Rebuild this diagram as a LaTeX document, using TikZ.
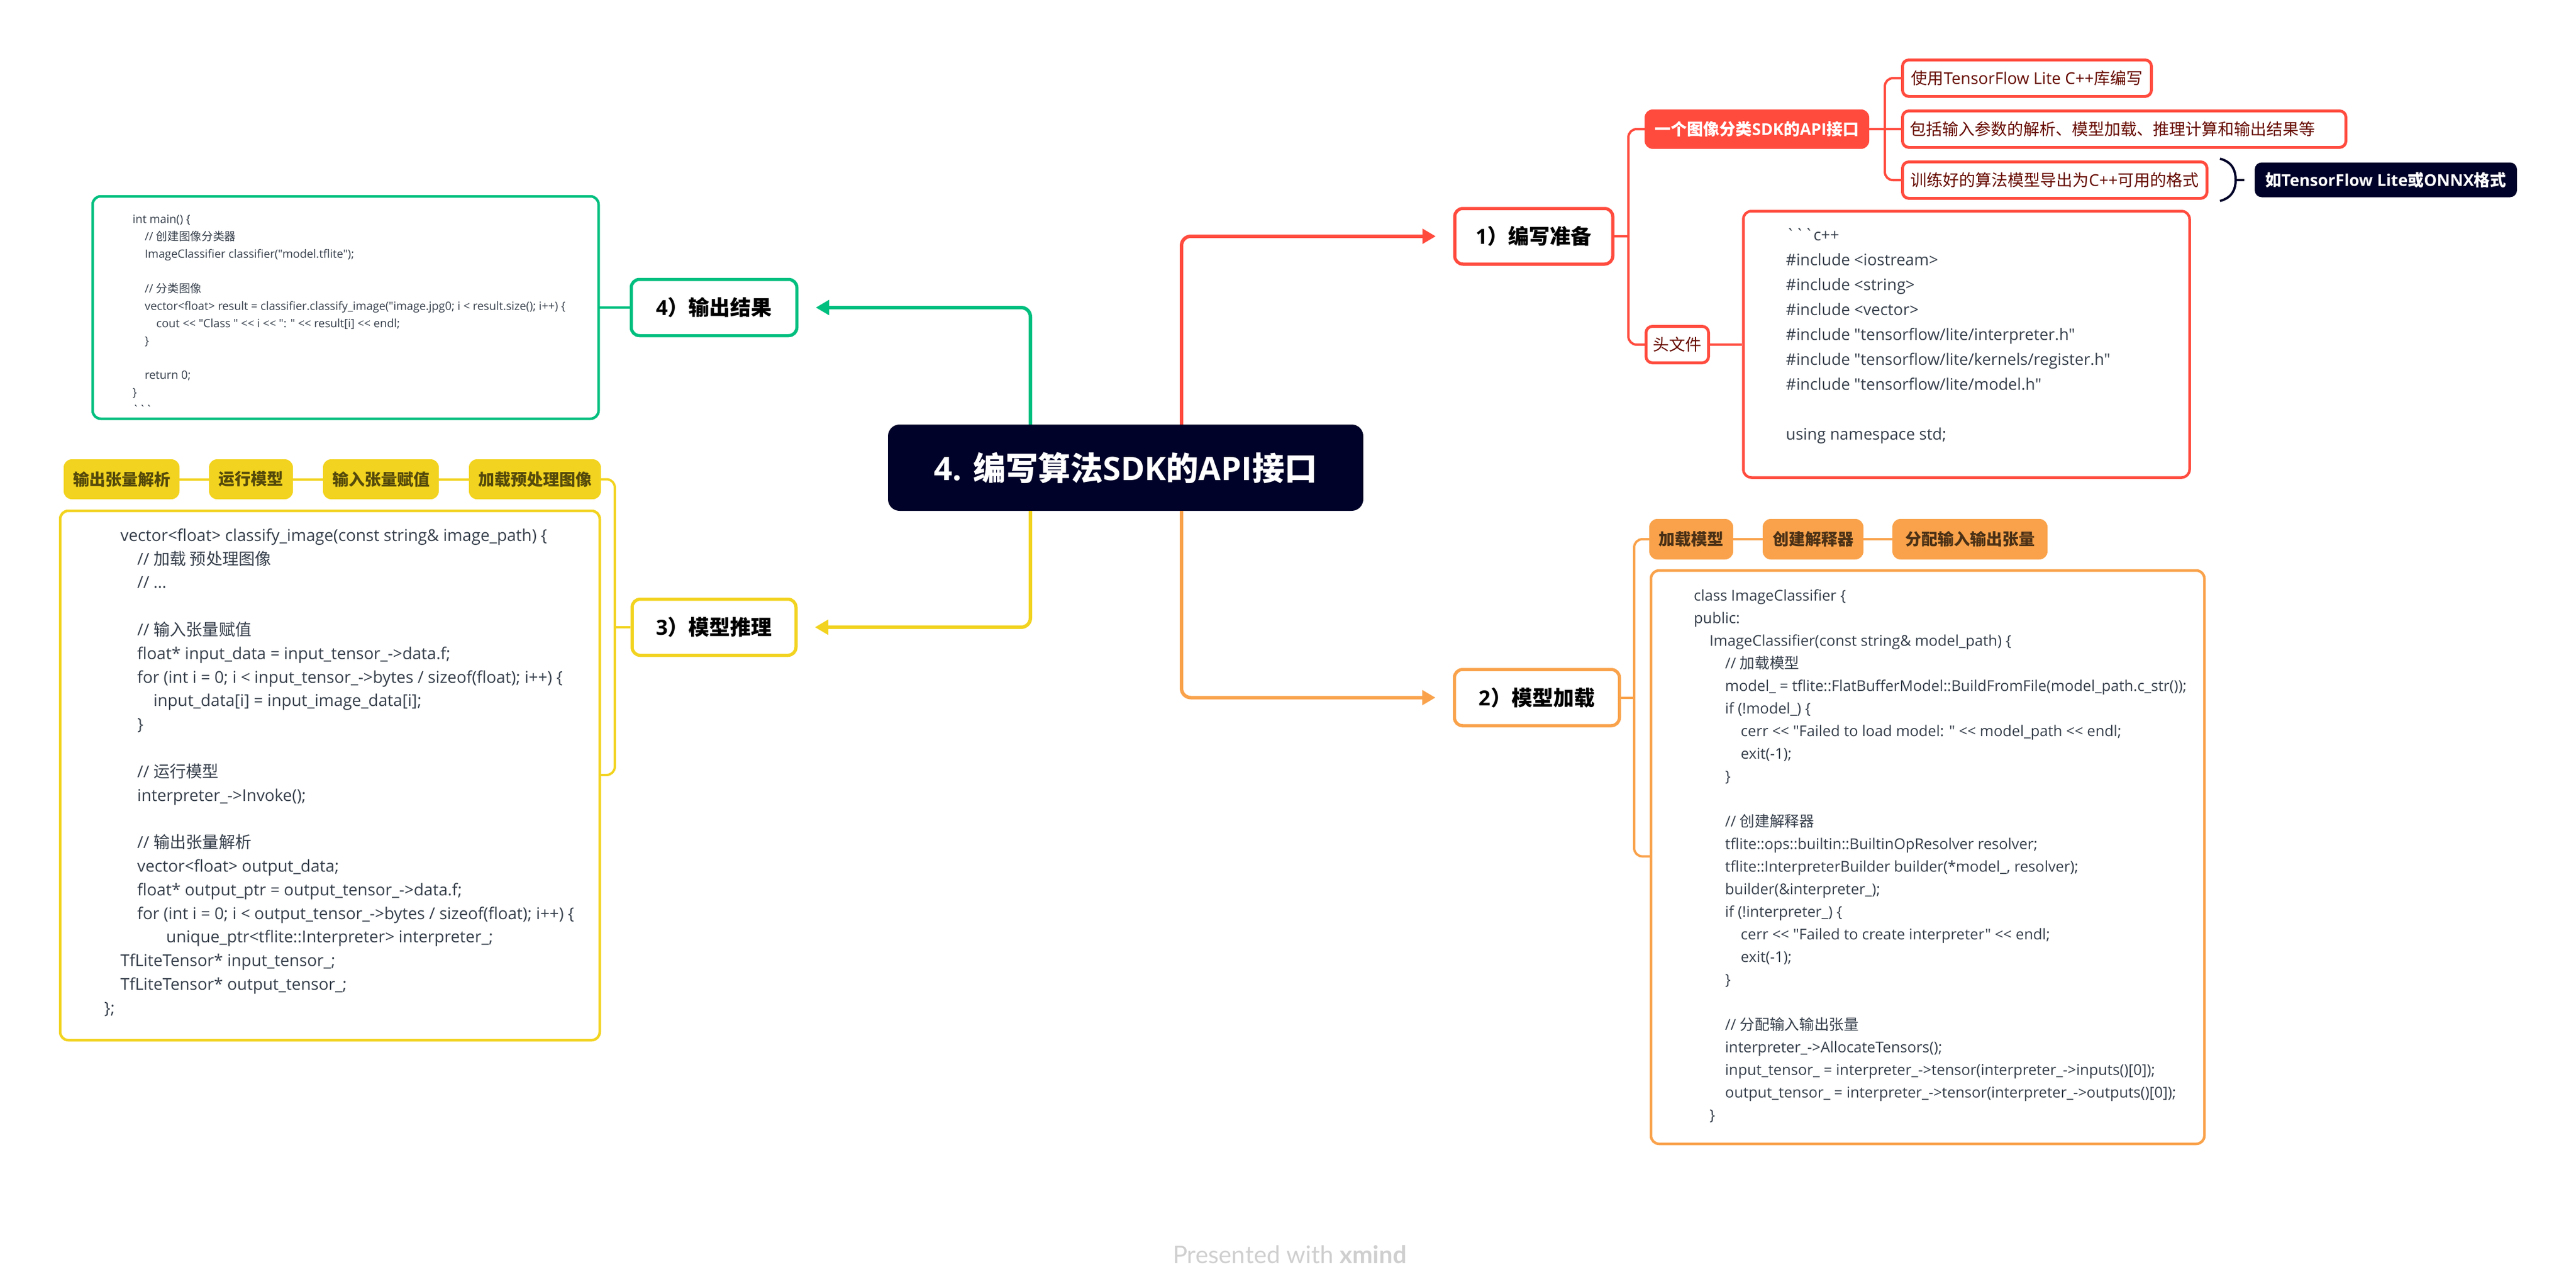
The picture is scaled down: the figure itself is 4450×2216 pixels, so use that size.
\documentclass[tikz,border=0pt]{standalone}
\usepackage{fontspec}
\setmainfont{Open Sans}[Ligatures=TeXOff]
\newfontfamily\cjk{Noto Sans CJK SC}
\newfontfamily\footfont{Lato}
\usetikzlibrary{arrows.meta}
\newcommand{\zh}[1]{{\cjk #1}}
\newcommand{\ind}[1]{\hspace*{#1pt}}
\definecolor{navy}{HTML}{000229}
\definecolor{mred}{HTML}{FF4B3E}
\definecolor{mora}{HTML}{F9A24B}
\definecolor{myel}{HTML}{F2D31F}
\definecolor{mgre}{HTML}{00BF7F}
\definecolor{codeink}{HTML}{353E4A}
\definecolor{redink}{HTML}{660A00}
\tikzset{
    size36/.style={font=\fontsize{36}{43}\selectfont\bfseries},
    size28/.style={font=\fontsize{28}{34}\selectfont},
    size28b/.style={font=\fontsize{28}{34}\selectfont\bfseries},
    topicbox/.style={draw,line width=5.5pt,rounded corners=14pt,fill=white,text=black,inner sep=0pt,size36},
    detailbox/.style={draw=mred,line width=5pt,rounded corners=11pt,fill=white,text=redink,inner sep=0pt,size28},
    tagbox/.style={rounded corners=14pt,inner sep=0pt,size28b},
    codebox/.style={draw,line width=4.5pt,rounded corners=14pt,fill=white,inner sep=0pt},
    codetext/.style={anchor=north west,align=left,inner sep=0pt,text=codeink},
    trunk/.style={line width=6pt,rounded corners=16pt,shorten >=30pt,-{Triangle[length=23pt,width=25pt]}},
    branch/.style={line width=4pt,rounded corners=14pt},
}
\begin{document}
\begin{tikzpicture}[x=1pt,y=-1pt]
    \useasboundingbox (0,0) rectangle (4450,2216);
    %% Root
    \node[fill=navy,text=white,rounded corners=20pt,minimum width=821pt,minimum height=149pt,inner sep=0pt,font=\fontsize{56}{66}\selectfont\bfseries] (root) at (1944.5,807.5) {4. \zh{编写算法}SDK\zh{的}API\zh{接口}};
    %% Main topics
    \node[topicbox,draw=mred,minimum width=273pt,minimum height=96pt] (prep) at (2649.5,408) {1\zh{）编写准备}};
    \node[topicbox,draw=mora,minimum width=285pt,minimum height=97pt] (load) at (2655,1204.5) {2\zh{）模型加载}};
    \node[topicbox,draw=myel,minimum width=283pt,minimum height=97pt] (infer) at (1233.5,1083) {3\zh{）模型推理}};
    \node[topicbox,draw=mgre,minimum width=286pt,minimum height=97pt] (output) at (1233.5,531) {4\zh{）输出结果}};
    %% Root connectors
    \draw[trunk,mred] ([xshift=96.5pt]root.north) |- (prep.west);
    \draw[trunk,mora] ([xshift=96.5pt]root.south) |- (load.west);
    \draw[trunk,myel] ([xshift=-164.5pt]root.south) |- (infer.east);
    \draw[trunk,mgre] ([xshift=-164.5pt]root.north) |- (output.east);
    %% 1) details
    \node[fill=mred,text=white,rounded corners=14pt,inner sep=0pt,minimum width=388pt,minimum height=68pt,size28b] (api) at (3035,223) {\zh{一个图像分类}SDK\zh{的}API\zh{接口}};
    \node[detailbox,minimum width=430pt,minimum height=63pt] (uselib) at (3501.5,135) {\zh{使用}TensorFlow Lite C++\zh{库编写}};
    \node[detailbox,text width=740pt,inner xsep=13pt,align=left,minimum height=63pt] (parse) at (3669.5,223) {\zh{包括输入参数的解析、模型加载、推理计算和输出结果等}};
    \node[detailbox,minimum width=526pt,minimum height=63pt] (train) at (3549.5,311) {\zh{训练好的算法模型导出为}C++\zh{可用的格式}};
    \node[fill=navy,text=white,rounded corners=12pt,inner sep=0pt,minimum width=453pt,minimum height=60pt,size28b] (onnx) at (4121.5,310.5) {\zh{如}TensorFlow Lite\zh{或}ONNX\zh{格式}};
    \node[detailbox,minimum width=108pt,minimum height=63pt] (header) at (2897.5,595) {\zh{头文件}};
    \node[codebox,draw=mred,minimum width=771pt,minimum height=460pt] (headerbox) at (3397,594.5) {};
    \node[codetext,font=\fontsize{27.5}{43}\selectfont] (headercode) at (3085,385) {\strut```c++\\
        \#include <iostream>\\
        \#include <string>\\
        \#include <vector>\\
        \#include "tensorflow/lite/interpreter.h"\\
        \#include "tensorflow/lite/kernels/register.h"\\
        \#include "tensorflow/lite/model.h"\\
        ~\\
        using namespace std;};
    \coordinate (prepj) at (2813,408);
    \coordinate (apij) at (3256,223);
    \coordinate (bracetop) at (3835,274);
    \coordinate (bracemid) at (3862,310.5);
    \coordinate (bracebot) at (3835,347);
    \draw[branch,mred] (prep.east) -- (prepj);
    \draw[branch,mred] (api.west) -| (prepj) |- (header.west);
    \draw[branch,mred] (api.east) -- (parse.west);
    \draw[branch,mred] (uselib.west) -| (apij) |- (train.west);
    \draw[branch,mred] (header.east) -- (header.east -| headerbox.west);
    \draw[line width=4pt,navy] (bracetop) .. controls (3857,280) and (3862,295) .. (bracemid) .. controls (3862,326) and (3857,341) .. (bracebot);
    \draw[line width=4pt,navy] (bracemid) -- ([xshift=-18pt]onnx.west);
    %% 2) details
    \node[tagbox,fill=mora,text=mora!30!black,minimum width=145pt,minimum height=70pt] (tagload) at (2921.5,931) {\zh{加载模型}};
    \node[tagbox,fill=mora,text=mora!30!black,minimum width=174pt,minimum height=70pt] (tagmake) at (3132,931) {\zh{创建解释器}};
    \node[tagbox,fill=mora,text=mora!30!black,minimum width=268pt,minimum height=70pt] (tagalloc) at (3403,931) {\zh{分配输入输出张量}};
    \node[codebox,draw=mora,minimum width=956pt,minimum height=990pt] (loadbox) at (3330,1480) {};
    \node[codetext,font=\fontsize{25.7}{39}\selectfont] (loadcode) at (2926,1010) {\strut class ImageClassifier \{\\
        public:\\
        \ind{27}ImageClassifier(const string\& model\_path) \{\\
        \ind{54}// \zh{加载模型}\\
        \ind{54}model\_ = tflite::FlatBufferModel::BuildFromFile(model\_path.c\_str());\\
        \ind{54}if (!model\_) \{\\
        \ind{81}cerr << "Failed to load model: " << model\_path << endl;\\
        \ind{81}exit(-1);\\
        \ind{54}\}\\
        ~\\
        \ind{54}// \zh{创建解释器}\\
        \ind{54}tflite::ops::builtin::BuiltinOpResolver resolver;\\
        \ind{54}tflite::InterpreterBuilder builder(*model\_, resolver);\\
        \ind{54}builder(\&interpreter\_);\\
        \ind{54}if (!interpreter\_) \{\\
        \ind{81}cerr << "Failed to create interpreter" << endl;\\
        \ind{81}exit(-1);\\
        \ind{54}\}\\
        ~\\
        \ind{54}// \zh{分配输入输出张量}\\
        \ind{54}interpreter\_->AllocateTensors();\\
        \ind{54}input\_tensor\_ = interpreter\_->tensor(interpreter\_->inputs()[0]);\\
        \ind{54}output\_tensor\_ = interpreter\_->tensor(interpreter\_->outputs()[0]);\\
        \ind{27}\}};
    \coordinate (loadj) at (2823,1204.5);
    \coordinate (loadend) at (2851,1478.6);
    \draw[branch,mora] (load.east) -- (loadj);
    \draw[branch,mora] (tagload.west) -| (loadj) |- (loadend);
    \draw[branch,mora] (tagload) -- (tagmake);
    \draw[branch,mora] (tagmake) -- (tagalloc);
    %% 3) details
    \node[tagbox,fill=myel,text=myel!35!black,minimum width=200pt,minimum height=69pt] (tagparse) at (210,827.5) {\zh{输出张量解析}};
    \node[tagbox,fill=myel,text=myel!35!black,minimum width=145pt,minimum height=69pt] (tagrun) at (433.5,827.5) {\zh{运行模型}};
    \node[tagbox,fill=myel,text=myel!35!black,minimum width=200pt,minimum height=69pt] (tagfill) at (658,827.5) {\zh{输入张量赋值}};
    \node[tagbox,fill=myel,text=myel!35!black,minimum width=228pt,minimum height=69pt] (tagimg) at (924,827.5) {\zh{加载预处理图像}};
    \node[codebox,draw=myel,minimum width=932pt,minimum height=914pt] (inferbox) at (570,1339) {};
    \node[codetext,font=\fontsize{28.2}{40.8}\selectfont] (infercode) at (208,905.5) {\strut vector<float> classify\_image(const string\& image\_path) \{\\
        \ind{29}// \zh{加载 预处理图像}\\
        \ind{29}// ...\\
        ~\\
        \ind{29}// \zh{输入张量赋值}\\
        \ind{29}float* input\_data = input\_tensor\_->data.f;\\
        \ind{29}for (int i = 0; i < input\_tensor\_->bytes / sizeof(float); i++) \{\\
        \ind{57}input\_data[i] = input\_image\_data[i];\\
        \ind{29}\}\\
        ~\\
        \ind{29}// \zh{运行模型}\\
        \ind{29}interpreter\_->Invoke();\\
        ~\\
        \ind{29}// \zh{输出张量解析}\\
        \ind{29}vector<float> output\_data;\\
        \ind{29}float* output\_ptr = output\_tensor\_->data.f;\\
        \ind{29}for (int i = 0; i < output\_tensor\_->bytes / sizeof(float); i++) \{\\
        \ind{79}unique\_ptr<tflite::Interpreter> interpreter\_;\\
        TfLiteTensor* input\_tensor\_;\\
        TfLiteTensor* output\_tensor\_;\\
        \ind{-28}\};};
    \coordinate (inferj) at (1062,1083);
    \coordinate (inferend) at (1037,1338);
    \draw[branch,myel] (infer.west) -- (inferj);
    \draw[branch,myel] (tagimg.east) -| (inferj) |- (inferend);
    \draw[branch,myel] (tagparse) -- (tagrun);
    \draw[branch,myel] (tagrun) -- (tagfill);
    \draw[branch,myel] (tagfill) -- (tagimg);
    %% 4) details
    \node[codebox,draw=mgre,minimum width=874pt,minimum height=384pt] (outputbox) at (597,531) {};
    \node[codetext,font=\fontsize{19.7}{29.9}\selectfont] (outputcode) at (229,364.7) {\strut int main() \{\\
        \ind{21}// \zh{创建图像分类器}\\
        \ind{21}ImageClassifier classifier("model.tflite");\\
        ~\\
        \ind{21}// \zh{分类图像}\\
        \ind{21}vector<float> result = classifier.classify\_image("image.jpg0; i < result.size(); i++) \{\\
        \ind{41}cout << "Class " << i << ": " << result[i] << endl;\\
        \ind{21}\}\\
        ~\\
        \ind{21}return 0;\\
        \}\\
        ```};
    \draw[branch,mgre] (outputbox) -- (output);
    %% Footer
    \node[text=black!19,inner sep=0pt,font=\footfont\fontsize{42}{50}\selectfont] (footer) at (2228,2166) {Presented with \textbf{xmind}};
\end{tikzpicture}
\end{document}
